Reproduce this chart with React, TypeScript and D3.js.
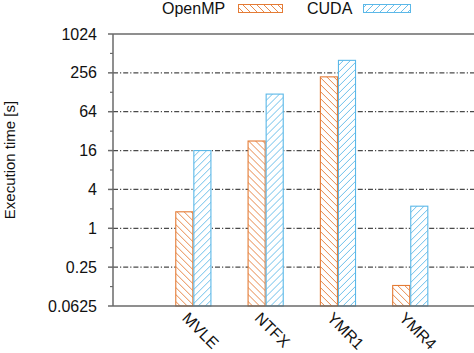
import React from "react";
import * as d3 from "d3";

const categories = ["MVLE", "NTFX", "YMR1", "YMR4"];
const seriesNames = ["OpenMP", "CUDA"];
const openmpValues = [1.8, 22.5, 222, 0.13];
const cudaValues = [16, 120, 400, 2.2];
const majorTicks = [0.0625, 0.25, 1, 4, 16, 64, 256, 1024];
const majorTickLabels = ["0.0625", "0.25", "1", "4", "16", "64", "256", "1024"];
const minorTicks = [0.125, 0.5, 2, 8, 32, 128, 512];

const W = 474;
const H = 353;
const FONT = "'Liberation Sans', Arial, sans-serif";
const colors = ["#E47B35", "#5BB8E8"];
const patternIds = ["hatchOrange", "hatchBlue"];

export default function App() {
  const plotLeft = 113;
  const plotRight = 474;
  const plotTop = 34;
  const plotBottom = 306;

  const y = d3.scaleLog().base(2).domain([0.0625, 1024]).range([plotBottom, plotTop]);
  const x = d3
    .scaleBand<string>()
    .domain(categories)
    .range([157.2, 446.4])
    .paddingInner(0.5)
    .paddingOuter(0.25);
  const xs = d3.scaleBand<string>().domain(seriesNames).range([0, x.bandwidth()]).padding(0);

  const seriesValues = [openmpValues, cudaValues];

  return (
    <svg
      width={W}
      height={H}
      style={{ position: "absolute", left: 0, top: 0, background: "#fff" }}
      fontFamily={FONT}
    >
      <defs>
        <pattern id={patternIds[0]} patternUnits="userSpaceOnUse" width={7} height={7}>
          <rect width={7} height={7} fill="#fff" />
          <path d="M0,0 L7,7 M-1,6 L1,8 M6,-1 L8,1" stroke={colors[0]} strokeWidth={0.9} />
        </pattern>
        <pattern id={patternIds[1]} patternUnits="userSpaceOnUse" width={7} height={7}>
          <rect width={7} height={7} fill="#fff" />
          <path d="M0,7 L7,0 M-1,1 L1,-1 M6,8 L8,6" stroke={colors[1]} strokeWidth={0.9} />
        </pattern>
      </defs>

      {/* gridlines */}
      {majorTicks.slice(1, -1).map((t) => (
        <line
          key={"g" + t}
          x1={plotLeft}
          x2={plotRight}
          y1={y(t)}
          y2={y(t)}
          stroke="#4a4a4a"
          strokeWidth={1.2}
          strokeDasharray="5,2,1.2,2"
        />
      ))}

      {/* bars */}
      {categories.map((c, i) => (
        <g key={c} transform={`translate(${x(c)},0)`}>
          {seriesNames.map((s, j) => {
            const v = seriesValues[j][i];
            const top = y(v);
            return (
              <rect
                key={s}
                x={(xs(s) as number) + 0.5}
                y={top}
                width={xs.bandwidth() - 1}
                height={plotBottom - top}
                fill={`url(#${patternIds[j]})`}
                stroke={colors[j]}
                strokeWidth={1.1}
              />
            );
          })}
        </g>
      ))}

      {/* frame */}
      <line x1={plotLeft} x2={plotRight} y1={plotTop} y2={plotTop} stroke="#6a6a6a" strokeWidth={1.5} />
      <line x1={plotLeft} x2={plotRight} y1={plotBottom} y2={plotBottom} stroke="#6a6a6a" strokeWidth={1.5} />
      <line x1={plotLeft} x2={plotLeft} y1={plotTop} y2={plotBottom} stroke="#6a6a6a" strokeWidth={1.5} />

      {/* y ticks */}
      {majorTicks.map((t, i) => (
        <g key={"t" + t}>
          <line x1={plotLeft - 5} x2={plotLeft} y1={y(t)} y2={y(t)} stroke="#6a6a6a" strokeWidth={1.5} />
          <text
            x={plotLeft - 16}
            y={y(t)}
            textAnchor="end"
            dominantBaseline="central"
            fontSize={16}
            fill="#111"
          >
            {majorTickLabels[i]}
          </text>
        </g>
      ))}
      {minorTicks.map((t) => (
        <line key={"m" + t} x1={plotLeft - 3} x2={plotLeft} y1={y(t)} y2={y(t)} stroke="#6a6a6a" strokeWidth={1.2} />
      ))}

      {/* x labels */}
      {categories.map((c) => {
        const cx = (x(c) as number) + x.bandwidth() / 2 - 12;
        const cy = 319;
        return (
          <text
            key={"xl" + c}
            x={cx}
            y={cy}
            transform={`rotate(45,${cx},${cy})`}
            fontSize={16}
            fill="#111"
          >
            {c}
          </text>
        );
      })}

      {/* y label */}
      <text
        transform={`translate(15,160) rotate(-90)`}
        textAnchor="middle"
        fontSize={15}
        fill="#111"
      >
        Execution time [s]
      </text>

      {/* legend */}
      <text x={162} y={14} fontSize={16} fill="#111">
        OpenMP
      </text>
      <rect x={238.5} y={4.5} width={44} height={8} fill={`url(#${patternIds[0]})`} stroke={colors[0]} strokeWidth={1} />
      <text x={307} y={14} fontSize={16} fill="#111">
        CUDA
      </text>
      <rect x={363.5} y={4.5} width={47} height={8} fill={`url(#${patternIds[1]})`} stroke={colors[1]} strokeWidth={1} />
    </svg>
  );
}
